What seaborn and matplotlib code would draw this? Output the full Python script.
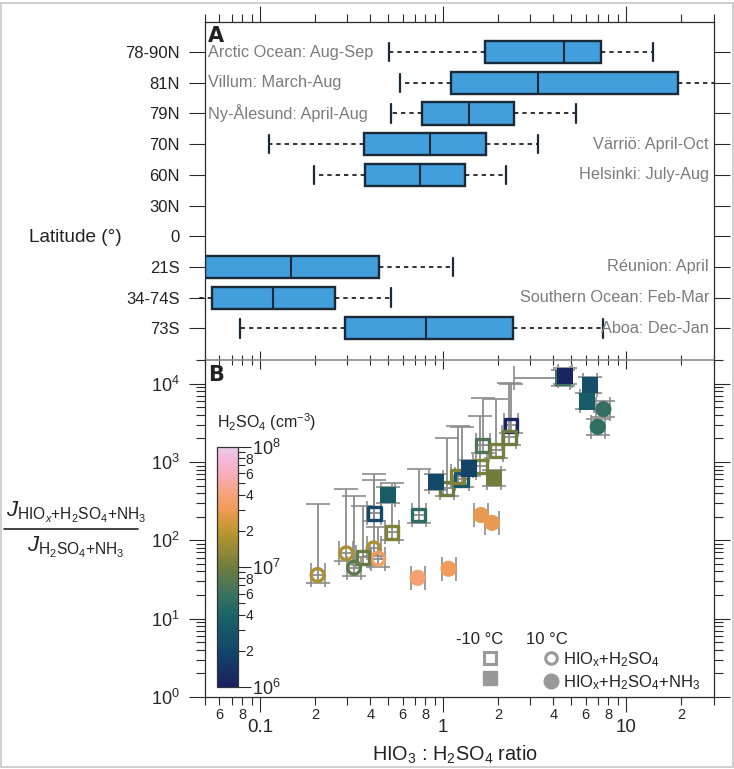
import numpy as np
import pandas as pd
import seaborn as sns
import matplotlib.pyplot as plt
from matplotlib.colors import LinearSegmentedColormap, LogNorm
from matplotlib.cm import ScalarMappable
from matplotlib.lines import Line2D
from matplotlib.patches import Rectangle
from matplotlib.transforms import blended_transform_factory

# panel A: min, q1, median, q3, max per site
lat_labels = ['78-90N', '81N', '79N', '70N', '60N', '30N', '0', '21S', '34-74S', '73S']
arctic = [0.508, 1.69, 4.59, 7.33, 14.0]
villum = [0.582, 1.10, 3.31, 19.3, 60.0]
ny_alesund = [0.519, 0.766, 1.39, 2.44, 5.33]
varrio = [0.112, 0.369, 0.843, 1.72, 3.31]
helsinki = [0.196, 0.376, 0.75, 1.31, 2.2]
reunion = [0.03, 0.0499, 0.147, 0.446, 1.126]
southern = [0.046, 0.0547, 0.117, 0.258, 0.517]
aboa = [0.0776, 0.29, 0.807, 2.42, 7.46]
site_lat = ['78-90N', '81N', '79N', '70N', '60N', '21S', '34-74S', '73S']
site_values = [arctic, villum, ny_alesund, varrio, helsinki, reunion, southern, aboa]
left_sites = {0: 'Arctic Ocean: Aug-Sep', 1: 'Villum: March-Aug', 2: 'Ny-Ålesund: April-Aug'}
right_sites = {3: 'Värriö: April-Oct', 4: 'Helsinki: July-Aug', 7: 'Réunion: April',
               8: 'Southern Ocean: Feb-Mar', 9: 'Aboa: Dec-Jan'}

# panel B: open circles, HIOx+H2SO4 at 10 C
oc_x = [0.206, 0.296, 0.326, 0.417, 0.442]
oc_y = [36.0, 68.1, 44.6, 78.8, 58.1]
oc_top = [292, 454, 370, 586, 149]
oc_conc = [1.7e7, 1.7e7, 8e6, 1.7e7, 3.3e7]

# open squares, HIOx+H2SO4 at -10 C
os_x = [0.365, 0.421, 0.525, 0.734, 1.047, 1.265, 1.203, 1.60, 1.647, 1.95, 2.35, 2.30]
os_y = [61, 222, 126, 210, 459, 598, 659, 884, 1638, 1415, 2946, 2072]
os_top = [275, 705, 541, 809, 2029, 2805, 2862, 3872, 6457, 6340, 9820, 10300]
os_conc = [9e6, 2.2e6, 1.15e7, 5e6, 9.5e6, 2.8e6, 1.15e7, 1.1e7, 7e6, 1.05e7, 1.1e6, 9.5e6]

# filled squares, HIOx+H2SO4+NH3 at -10 C
fs_x = [4.50, 0.499, 0.917, 1.38, 1.89, 4.64, 6.35, 6.09]
fs_y = [11700, 374, 557, 826, 616, 12420, 9545, 5914]
fs_conc = [6e6, 3.4e6, 2.2e6, 1.9e6, 1.0e7, 1.15e6, 2.5e6, 3.3e6]
far_left_x = 2.43

# filled circles, HIOx+H2SO4+NH3 at 10 C
fc_green_x = [7.51, 6.99]
fc_green_y = [4714, 2806]
fc_green_conc = [5.5e6, 5.2e6]
fc_orange_x = [0.725, 1.07, 1.61, 1.85]
fc_orange_y = [33.2, 43.3, 210, 167]
fc_orange_conc = [3.6e7, 3.1e7, 2.8e7, 2.8e7]

x_err_factor = 1.092
y_err_factor = 1.265

x_major = [0.1, 1, 10]
x_major_labels = ['0.1', '1', '10']
x_minor = [0.05, 0.06, 0.07, 0.08, 0.09, 0.2, 0.3, 0.4, 0.5, 0.6, 0.7, 0.8, 0.9,
           2, 3, 4, 5, 6, 7, 8, 9, 20, 30]
x_minor_labels = ['', '6', '', '8', '', '2', '', '4', '', '6', '', '8', '',
                  '2', '', '4', '', '6', '', '8', '', '2', '']
y_major = [1, 10, 100, 1000, 10000]
y_major_labels = ['$10^{0}$', '$10^{1}$', '$10^{2}$', '$10^{3}$', '$10^{4}$']
cb_major = [1e6, 1e7, 1e8]
cb_major_labels = ['$10^{6}$', '$10^{7}$', '$10^{8}$']
cb_minor = [2e6, 3e6, 4e6, 5e6, 6e6, 7e6, 8e6, 9e6, 2e7, 3e7, 4e7, 5e7, 6e7, 7e7, 8e7, 9e7]
cb_minor_labels = ['2', '', '4', '', '6', '', '8', '', '2', '', '4', '', '6', '', '8', '']

W, H = 734, 769
DARK = '#2b2b2b'
GREY = '#8c8c8c'

sns.set_theme(style='ticks')
plt.rcParams['font.family'] = ['Liberation Sans', 'DejaVu Sans']
plt.rcParams['mathtext.fontset'] = 'custom'
plt.rcParams['mathtext.rm'] = 'Liberation Sans'
plt.rcParams['mathtext.it'] = 'Liberation Sans:italic'
plt.rcParams['mathtext.default'] = 'regular'
plt.rcParams['text.color'] = '#222222'

cmap = LinearSegmentedColormap.from_list('h2so4', [
    (0.0, '#1a1f5e'), (0.15, '#12466a'), (0.3, '#1c6468'), (0.39, '#3c7360'),
    (0.5, '#717d3c'), (0.65, '#bd972f'), (0.74, '#f09b56'), (0.8, '#f7a27a'),
    (0.89, '#f8aebd'), (0.95, '#f4b8dc'), (1.0, '#e8cfe8')])
norm = LogNorm(1e6, 1e8)


def ax_rect(left, top, right, bottom):
    return [left / W, 1 - bottom / H, (right - left) / W, (bottom - top) / H]


def fig_xy(x, y):
    return x / W, 1 - y / H


def set_x_ticks(ax):
    ax.set_xscale('log')
    ax.set_xlim(0.05, 30)
    ax.set_xticks(x_major, labels=x_major_labels)
    ax.set_xticks(x_minor, labels=x_minor_labels, minor=True)


def grey_bars(ax, x, y, top=None, x_low=None, y_bars=True):
    x = np.array(x, dtype=float)
    y = np.array(y, dtype=float)
    top = y * y_err_factor if top is None else np.array(top, dtype=float)
    low = x / x_err_factor if x_low is None else x_low
    yerr = [y - y / y_err_factor, top - y] if y_bars else None
    ax.errorbar(x, y, xerr=[x - low, x * x_err_factor - x], yerr=yerr,
                fmt='none', ecolor=GREY, elinewidth=1.3, capsize=8.5, capthick=1.2, zorder=2)


def points(ax, x, y, conc, marker, filled):
    table = pd.DataFrame({'x': x, 'y': y, 'conc': conc})
    if filled:
        sns.scatterplot(data=table, x='x', y='y', hue='conc', palette=cmap, hue_norm=norm,
                        marker=marker, s=135, linewidth=0, legend=False, ax=ax, zorder=3)
    else:
        sns.scatterplot(data=table, x='x', y='y', hue='conc', palette=cmap, hue_norm=norm,
                        marker=marker, s=85, legend=False, ax=ax, zorder=3)
        coll = ax.collections[-1]
        coll.set_edgecolor(coll.get_facecolor())
        coll.set_facecolor('none')
        coll.set_linewidth(2.4)


fig = plt.figure(figsize=(W / 100, H / 100), dpi=100)
ax_a = fig.add_axes(ax_rect(205, 22, 713.5, 360))
ax_b = fig.add_axes(ax_rect(205, 360, 713.5, 697))

# panel A
box_table = pd.DataFrame({
    'lat': np.repeat(site_lat, 5),
    'ratio': np.concatenate(site_values),
})
sns.boxplot(data=box_table, x='ratio', y='lat', order=lat_labels, log_scale=True, whis=(0, 100),
            width=0.72, color='#429fdb', saturation=1, linecolor='#1b2a38', linewidth=1.7,
            whiskerprops={'linestyle': (0, (2.6, 2.4)), 'linewidth': 1.2, 'color': '#111111'},
            capprops={'linewidth': 1.6},
            medianprops={'linewidth': 1.5},
            capwidths=0.6, showfliers=False, ax=ax_a)
set_x_ticks(ax_a)
ax_a.set_ylim(10.03, -0.98)
ax_a.set_xlabel('')
ax_a.set_ylabel('')
ax_a.xaxis.tick_top()
ax_a.tick_params(axis='x', which='major', length=11.5, width=0.8, color=DARK, labeltop=False)
ax_a.tick_params(axis='x', which='minor', length=6, width=0.8, color=DARK, labeltop=False)
ax_a.tick_params(axis='y', length=11.5, width=0.8, color=DARK, left=True, right=True,
                 labelsize=12, pad=6.5, labelcolor='#222222')
trans = blended_transform_factory(ax_a.transAxes, ax_a.transData)
for pos, name in left_sites.items():
    ax_a.text(0.006, pos, name, transform=trans, color='#7b7b7b', fontsize=11.7, va='center', ha='left')
for pos, name in right_sites.items():
    ax_a.text(0.991, pos, name, transform=trans, color='#7b7b7b', fontsize=11.7, va='center', ha='right')
ax_a.text(0.006, 0.96, 'A', transform=ax_a.transAxes, fontsize=15, fontweight='bold', va='center',
          family='Liberation Sans Narrow')
# the Southern Ocean whisker runs a little past the left axis
for line in ax_a.lines:
    xd = np.asarray(line.get_xdata(), dtype=float)
    if len(xd) == 2 and xd[0] != xd[1] and np.isclose(xd.min(), southern[0]):
        line.set_clip_on(False)

# panel B
ax_b.set_xscale('log')
ax_b.set_yscale('log')
grey_bars(ax_b, oc_x, oc_y, oc_top)
grey_bars(ax_b, os_x, os_y, os_top)
grey_bars(ax_b, fs_x[1:], fs_y[1:])
grey_bars(ax_b, fs_x[:1], fs_y[:1], x_low=far_left_x)
grey_bars(ax_b, fc_green_x, fc_green_y)
grey_bars(ax_b, fc_orange_x, fc_orange_y, y_bars=False)
points(ax_b, oc_x, oc_y, oc_conc, 'o', False)
points(ax_b, os_x, os_y, os_conc, 's', False)
points(ax_b, fs_x, fs_y, fs_conc, 's', True)
points(ax_b, fc_green_x, fc_green_y, fc_green_conc, 'o', True)
points(ax_b, fc_orange_x, fc_orange_y, fc_orange_conc, 'o', True)
set_x_ticks(ax_b)
ax_b.set_ylim(1, 2e4)
ax_b.set_yticks(y_major, labels=y_major_labels)
ax_b.set_xlabel('')
ax_b.set_ylabel('')
ax_b.tick_params(axis='x', which='major', length=11, width=0.8, color=DARK, labelsize=13.5, pad=5)
ax_b.tick_params(axis='x', which='minor', length=5.5, width=0.8, color=DARK, labelsize=10.5, pad=2.5)
ax_b.tick_params(axis='y', which='major', length=11.5, width=0.8, color=DARK, left=True, right=True,
                 labelsize=13, pad=7)
ax_b.tick_params(axis='y', which='minor', length=6.3, width=0.8, color=DARK, left=True, right=True)
ax_b.text(0.006, 0.955, 'B', transform=ax_b.transAxes, fontsize=15, fontweight='bold', va='center',
          family='Liberation Sans Narrow')

# grey ticks across the divider between panels
divider = ax_b.secondary_xaxis('top')
divider.set_xticks(x_major, labels=[])
divider.set_xticks(x_minor, labels=[], minor=True)
divider.tick_params(axis='x', which='major', direction='inout', length=12.5, width=0.8, color=DARK)
divider.tick_params(axis='x', which='minor', direction='inout', length=6.5, width=0.8, color=DARK)
divider.spines['top'].set_color(GREY)
divider.spines['top'].set_linewidth(1.2)

for ax in (ax_a, ax_b):
    for side in ('left', 'right', 'top', 'bottom'):
        ax.spines[side].set_visible(True)
        ax.spines[side].set_color(DARK)
        ax.spines[side].set_linewidth(0.9)
ax_a.spines['bottom'].set_visible(False)
ax_b.spines['top'].set_visible(False)

# colorbar
cax = fig.add_axes(ax_rect(217, 446.7, 237.7, 687))
cbar = fig.colorbar(ScalarMappable(norm=norm, cmap=cmap), cax=cax)
cbar.outline.set_edgecolor('#333333')
cbar.outline.set_linewidth(0.9)
cbar.set_ticks(cb_major, labels=cb_major_labels)
cax.set_yticks(cb_minor, labels=cb_minor_labels, minor=True)
cax.tick_params(axis='y', which='major', length=9, width=0.8, color=DARK, labelsize=13, pad=1)
cax.tick_params(axis='y', which='minor', length=4.7, width=0.8, color=DARK, labelsize=10, pad=1)
x0, y0 = fig_xy(217, 422)
fig.text(x0, y0, '$H_{2}SO_{4}$ (cm$^{-3}$)', fontsize=11.5, va='center', ha='left')

# legend
handles = [
    Line2D([], [], ls='', marker='s', mfc='none', mec='#999999', mew=2.2, ms=8.3),
    Line2D([], [], ls='', marker='s', mfc='#999999', mec='#999999', ms=9.5),
    Line2D([], [], ls='', marker='o', mfc='none', mec='#999999', mew=2.2, ms=8.3),
    Line2D([], [], ls='', marker='o', mfc='#999999', mec='#999999', ms=10.5),
]
fig.legend(handles, ['', '', '$HIO_{x}$+$H_{2}SO_{4}$', '$HIO_{x}$+$H_{2}SO_{4}$+$NH_{3}$'],
           ncol=2, frameon=False, fontsize=12, handlelength=1, handletextpad=0.22,
           columnspacing=2.43, borderpad=0, labelspacing=0.25,
           loc='center left', bbox_to_anchor=fig_xy(473.7, 671), bbox_transform=fig.transFigure)
for cx, label in ((480, '-10 °C'), (547, '10 °C')):
    x0, y0 = fig_xy(cx, 639)
    fig.text(x0, y0, label, fontsize=12, ha='center', va='center')

# axis titles
x0, y0 = fig_xy(455, 755)
fig.text(x0, y0, '$HIO_{3}$ : $H_{2}SO_{4}$ ratio', fontsize=14.3, ha='center', va='center')
x0, y0 = fig_xy(75, 238)
fig.text(x0, y0, 'Latitude (°)', fontsize=13.7, ha='center', va='center')
x0, y0 = fig_xy(76, 512)
fig.text(x0, y0, r'$\mathit{J}_{HIO_{\mathit{x}}{+}H_{2}SO_{4}{+}NH_{3}}$', fontsize=16, ha='center', va='center')
x0, y0 = fig_xy(76, 547)
fig.text(x0, y0, r'$\mathit{J}_{H_{2}SO_{4}{+}NH_{3}}$', fontsize=16, ha='center', va='center')
fig.add_artist(Line2D([4 / W, 138 / W], [1 - 528.7 / H, 1 - 528.7 / H], color='#222222', lw=1.2))

fig.add_artist(Rectangle((0.001, 0.003), 0.997, 0.993, transform=fig.transFigure, fill=False,
                         edgecolor='#cccccc', linewidth=1.3))

fig.savefig('out.png', dpi=100)
